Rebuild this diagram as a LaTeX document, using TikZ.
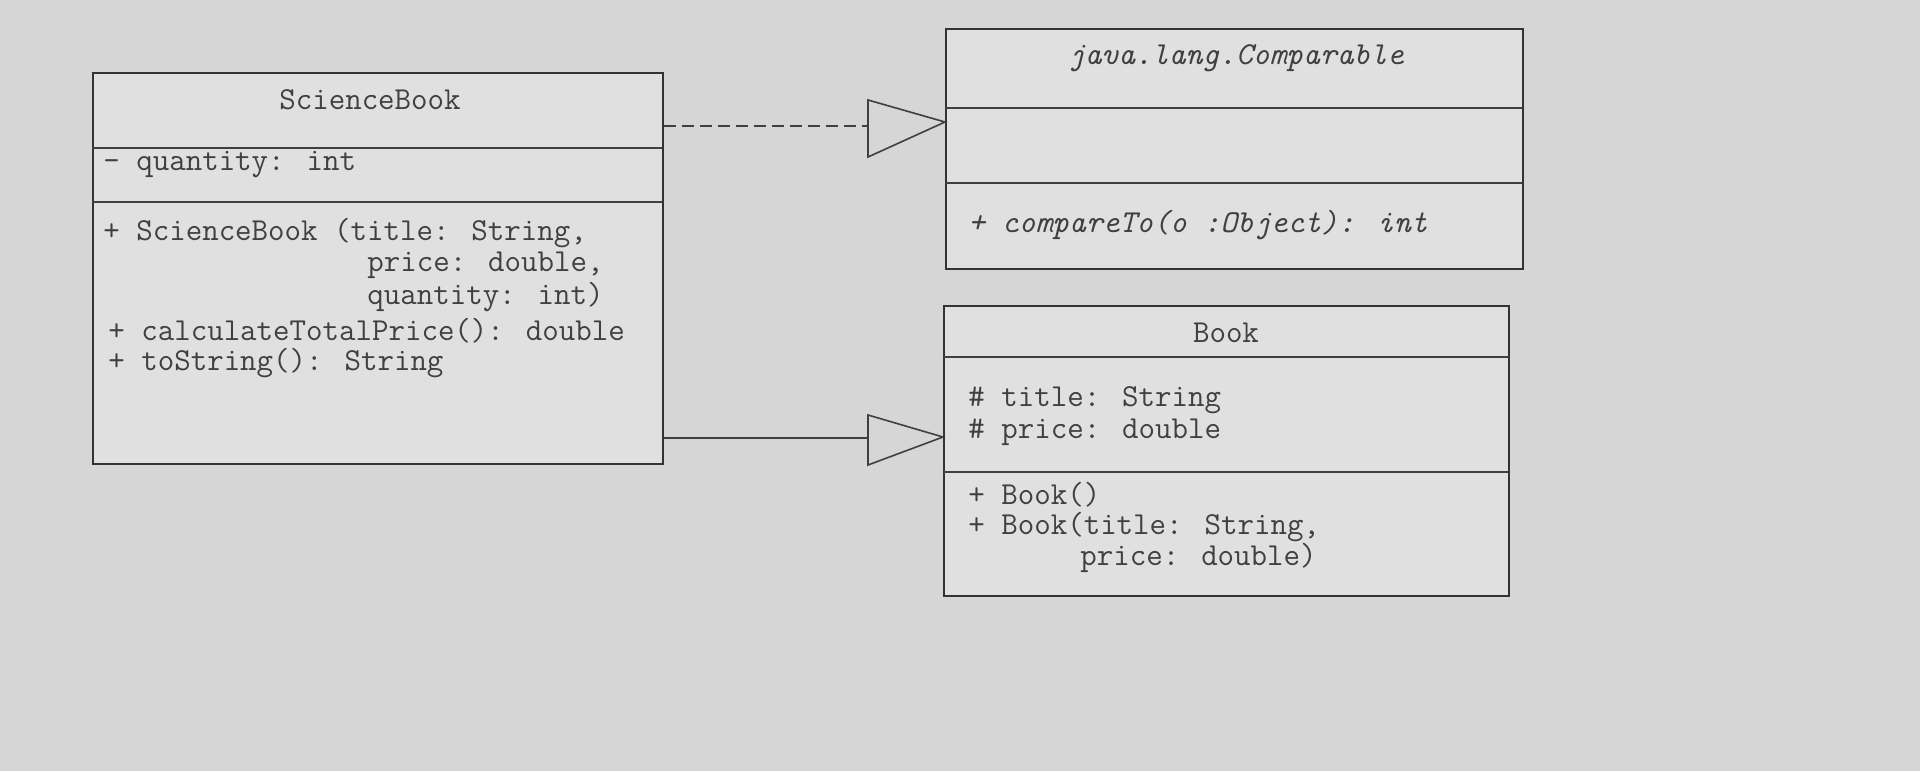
\documentclass[tikz,border=0pt]{standalone}
\usepackage{fontspec}
\begin{document}
\begin{tikzpicture}[x=0.5pt,y=-0.5pt,
  box/.style={draw=black!80,line width=0.8pt,fill=white!88!black,anchor=north west,inner sep=0pt},
  txt/.style={anchor=west,inner sep=0pt,font=\ttfamily\fontsize{16}{18}\selectfont,text=black!75},
  ln/.style={draw=black!75,line width=0.8pt}]
\fill[black!16] (0,0) rectangle (1920,771);
\useasboundingbox (0,0) rectangle (1920,771);
% boxes
\node[box,minimum width=285pt,minimum height=195.5pt] (sb) at (92,72) {};
\node[box,minimum width=288.5pt,minimum height=120pt] (cmp) at (945,28) {};
\node[box,minimum width=282.5pt,minimum height=145pt] (bk) at (943,305) {};
% dividers
\draw[ln] (92,148) -- (662,148);
\draw[ln] (92,202) -- (662,202);
\draw[ln] (945,108) -- (1522,108);
\draw[ln] (945,183) -- (1522,183);
\draw[ln] (943,357) -- (1508,357);
\draw[ln] (943,472) -- (1508,472);
% texts
\node[txt,anchor=center] (t1) at (370,100) {ScienceBook};
\node[txt] (t2) at (103,165) {- quantity: int};
\node[txt] (t3) at (103,233) {+ ScienceBook (title: String,};
\node[txt] (t4) at (367,265) {price: double,};
\node[txt] (t5) at (367,297) {quantity: int)};
\node[txt] (t6) at (108,331) {+ calculateTotalPrice(): double};
\node[txt] (t7) at (108,363) {+ toString(): String};
\node[txt,anchor=center,font=\ttfamily\itshape\fontsize{16}{18}\selectfont] (c1) at (1236,58) {java.lang.Comparable};
\node[txt,font=\ttfamily\itshape\fontsize{16}{18}\selectfont] (c2) at (968,225) {+ compareTo(o :Object): int};
\node[txt,anchor=center] (b1) at (1226,333) {Book};
\node[txt] (b2) at (968,400) {\# title: String};
\node[txt] (b3) at (968,432) {\# price: double};
\node[txt] (b4) at (968,495) {+ Book()};
\node[txt] (b5) at (968,527) {+ Book(title: String,};
\node[txt] (b6) at (1080,558) {price: double)};
% connectors
\coordinate (r1) at (sb.east |- 0,126);
\coordinate (a1) at (cmp.west |- 0,122);
\coordinate (r2) at (sb.east |- 0,438);
\coordinate (a2) at (bk.west |- 0,437);
\draw[ln,dashed,dash pattern=on 6pt off 3pt] (r1) -- (868,126);
\draw[ln] (868,100) -- (a1) -- (868,157) -- cycle;
\draw[ln] (r2) -- (868,438);
\draw[ln] (868,415) -- (a2) -- (868,465) -- cycle;
\end{tikzpicture}
\end{document}
